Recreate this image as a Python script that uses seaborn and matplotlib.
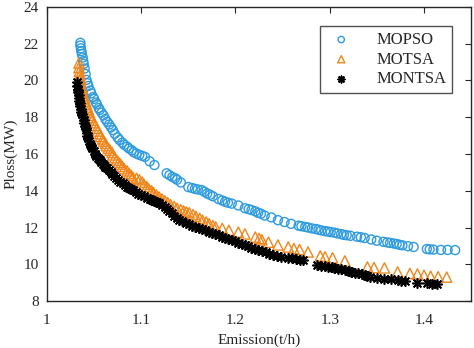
import matplotlib
matplotlib.use("Agg")
import matplotlib.pyplot as plt
import seaborn as sns

# ---- data ----
mopso_x = [1.0355, 1.0355, 1.036, 1.0365, 1.037, 1.038, 1.0385, 1.039, 1.040, 1.041, 1.042, 1.043,
           1.044, 1.046, 1.047, 1.049, 1.050, 1.052, 1.053, 1.055, 1.056, 1.058,
           1.060, 1.062, 1.064, 1.066, 1.068, 1.070, 1.072, 1.075, 1.077, 1.080, 1.082, 1.085,
           1.087, 1.090, 1.092, 1.095, 1.098, 1.101, 1.104, 1.109, 1.114,
           1.127, 1.130, 1.133, 1.136, 1.138, 1.142, 1.150, 1.154, 1.157, 1.160, 1.164, 1.167,
           1.170, 1.173, 1.176, 1.182, 1.186, 1.189, 1.192, 1.196,
           1.203, 1.210, 1.214, 1.217, 1.221, 1.224, 1.227, 1.231, 1.238, 1.245, 1.252, 1.259,
           1.267, 1.270, 1.274, 1.277, 1.281, 1.285, 1.288, 1.291, 1.295, 1.298, 1.301, 1.305,
           1.308, 1.312, 1.315, 1.318, 1.322, 1.329, 1.333, 1.337, 1.344, 1.350, 1.357, 1.361,
           1.364, 1.368, 1.371, 1.374, 1.377, 1.383, 1.389, 1.403, 1.406, 1.410, 1.418, 1.425,
           1.433]
mopso_y = [22.05, 21.9, 21.75, 21.6, 21.45, 21.25, 21.05, 20.9, 20.65, 20.35, 20.03, 19.85,
           19.7, 19.45, 19.3, 19.1, 19.0, 18.8, 18.7, 18.5, 18.4, 18.25,
           18.1, 17.9, 17.75, 17.6, 17.45, 17.3, 17.1, 16.9, 16.76, 16.62, 16.5, 16.4,
           16.3, 16.2, 16.1, 16.02, 15.95, 15.9, 15.84, 15.6, 15.4,
           14.95, 14.85, 14.75, 14.68, 14.6, 14.45, 14.2, 14.15, 14.1, 14.07, 14.04, 13.95,
           13.85, 13.78, 13.7, 13.55, 13.47, 13.4, 13.35, 13.3,
           13.2, 13.05, 13.0, 12.95, 12.88, 12.8, 12.75, 12.65, 12.55, 12.4, 12.3, 12.2,
           12.1, 12.07, 12.03, 12.0, 11.95, 11.92, 11.88, 11.84, 11.8, 11.78, 11.75, 11.72,
           11.68, 11.64, 11.6, 11.58, 11.55, 11.5, 11.47, 11.43, 11.35, 11.28, 11.22, 11.19,
           11.16, 11.13, 11.1, 11.06, 11.03, 10.98, 10.94, 10.83, 10.81, 10.8, 10.78, 10.78,
           10.77]

motsa_x = [1.034, 1.034, 1.0345, 1.035, 1.0355, 1.036, 1.037, 1.0375, 1.038, 1.039, 1.040, 1.041,
           1.042, 1.043, 1.044, 1.045, 1.046, 1.047, 1.048, 1.050, 1.051, 1.053,
           1.054, 1.056, 1.057, 1.059, 1.060, 1.062, 1.063, 1.065, 1.067, 1.069, 1.070, 1.072,
           1.074, 1.076, 1.078, 1.080, 1.082, 1.085, 1.087, 1.089, 1.091, 1.095, 1.098,
           1.101, 1.103, 1.106, 1.108, 1.111, 1.113, 1.116, 1.119, 1.122, 1.125, 1.128, 1.131,
           1.135, 1.138, 1.142, 1.145, 1.148, 1.151, 1.155, 1.158, 1.162, 1.165, 1.169, 1.172,
           1.176, 1.179, 1.186, 1.193, 1.203, 1.210, 1.221, 1.225, 1.228, 1.235, 1.245, 1.256,
           1.262, 1.268, 1.277, 1.290, 1.295, 1.303, 1.316, 1.340, 1.347, 1.358, 1.372, 1.385,
           1.393, 1.400, 1.407, 1.415, 1.424]
motsa_y = [20.95, 20.7, 20.5, 20.3, 20.1, 19.9, 19.6, 19.45, 19.3, 19.15, 19.0, 18.85,
           18.7, 18.55, 18.4, 18.25, 18.1, 17.98, 17.85, 17.7, 17.55, 17.4,
           17.25, 17.1, 16.95, 16.82, 16.7, 16.58, 16.45, 16.32, 16.2, 16.08, 15.95, 15.8,
           15.67, 15.55, 15.45, 15.32, 15.2, 15.08, 14.95, 14.85, 14.75, 14.68, 14.6,
           14.47, 14.35, 14.22, 14.1, 14.0, 13.9, 13.78, 13.66, 13.55, 13.45, 13.35, 13.25,
           13.15, 13.05, 12.97, 12.9, 12.85, 12.8, 12.7, 12.6, 12.5, 12.4, 12.3, 12.2,
           12.1, 12.03, 11.95, 11.85, 11.75, 11.65, 11.48, 11.4, 11.33, 11.2, 11.05, 10.94,
           10.85, 10.8, 10.67, 10.45, 10.4, 10.35, 10.18, 9.85, 9.82, 9.8, 9.58, 9.5,
           9.47, 9.4, 9.35, 9.32, 9.3]

montsa_x = [1.032, 1.032, 1.0325, 1.033, 1.0335, 1.034, 1.0345, 1.035, 1.0355, 1.036, 1.0365, 1.037,
            1.038, 1.039, 1.0395, 1.040, 1.041, 1.042, 1.043, 1.044, 1.045, 1.046,
            1.047, 1.048, 1.0495, 1.051, 1.0525, 1.054, 1.055, 1.056, 1.0575, 1.059, 1.0605, 1.062,
            1.064, 1.066, 1.0675, 1.069, 1.071, 1.073, 1.0755, 1.078, 1.0805, 1.083, 1.085, 1.087,
            1.089, 1.091, 1.094, 1.097, 1.100, 1.103, 1.106, 1.109, 1.1115, 1.114, 1.1165, 1.119,
            1.122, 1.125, 1.1275, 1.130, 1.1325, 1.135, 1.1375, 1.140, 1.1435, 1.147, 1.1505, 1.154,
            1.1575, 1.161, 1.1645, 1.168, 1.1715, 1.175, 1.1785, 1.182, 1.1855, 1.189, 1.1925, 1.196,
            1.1995, 1.203, 1.2065, 1.210, 1.2135, 1.217, 1.2205, 1.224, 1.228, 1.232, 1.236, 1.240,
            1.244, 1.248, 1.256, 1.260, 1.264, 1.268, 1.272, 1.287, 1.291, 1.295, 1.298, 1.302,
            1.305, 1.309, 1.312, 1.316, 1.320, 1.323, 1.327, 1.330, 1.334, 1.337, 1.340, 1.343,
            1.350, 1.358, 1.365, 1.372, 1.376, 1.380, 1.393, 1.403, 1.408, 1.414]
montsa_y = [19.9, 19.7, 19.5, 19.35, 19.2, 19.05, 18.9, 18.75, 18.6, 18.45, 18.3, 18.15,
            18.0, 17.85, 17.7, 17.55, 17.4, 17.14, 17.0, 16.85, 16.7, 16.55,
            16.42, 16.3, 16.15, 16.0, 15.9, 15.8, 15.73, 15.67, 15.56, 15.45, 15.38, 15.3,
            15.22, 15.13, 15.02, 14.9, 14.8, 14.7, 14.6, 14.5, 14.4, 14.3, 14.22, 14.15,
            14.1, 14.04, 13.95, 13.85, 13.78, 13.7, 13.62, 13.55, 13.5, 13.45, 13.39, 13.33,
            13.22, 13.1, 13.0, 12.9, 12.78, 12.65, 12.53, 12.41, 12.33, 12.25, 12.17, 12.1,
            12.04, 11.98, 11.92, 11.85, 11.78, 11.7, 11.64, 11.57, 11.5, 11.42, 11.36, 11.3,
            11.24, 11.18, 11.12, 11.05, 10.97, 10.9, 10.84, 10.78, 10.72, 10.65, 10.58, 10.52,
            10.46, 10.4, 10.35, 10.32, 10.28, 10.25, 10.23, 9.96, 9.93, 9.9, 9.87, 9.83,
            9.8, 9.76, 9.73, 9.69, 9.65, 9.6, 9.55, 9.5, 9.45, 9.4, 9.35, 9.3,
            9.25, 9.22, 9.18, 9.14, 9.11, 9.08, 8.98, 8.96, 8.94, 8.93]

x_ticks = [1, 1.1, 1.2, 1.3, 1.4]
x_tick_labels = ["1", "1.1", "1.2", "1.3", "1.4"]
y_ticks = [8, 10, 12, 14, 16, 18, 20, 22, 24]
series_names = ["MOPSO", "MOTSA", "MONTSA"]

# ---- style ----
sns.set_style("white")
plt.rcParams["font.family"] = ["Liberation Serif", "DejaVu Serif"]

blue = "#2e9be0"
orange = "#f0861a"
black = "#000000"

fig = plt.figure(figsize=(4.74, 3.48), dpi=100)
ax = fig.add_axes([0.099, 0.135, 0.895, 0.845])

sns.scatterplot(x=mopso_x, y=mopso_y, ax=ax, marker="o", s=42,
                facecolor="none", edgecolor=blue, linewidth=1.0, label=series_names[0])
sns.scatterplot(x=motsa_x, y=motsa_y, ax=ax, marker="^", s=55,
                facecolor="none", edgecolor=orange, linewidth=1.0, label=series_names[1])
sns.scatterplot(x=montsa_x, y=montsa_y, ax=ax, marker=(8, 2, 0), s=45,
                facecolor=black, edgecolor=black, linewidth=1.2, label=series_names[2])

ax.set_xlim(1, 1.45)
ax.set_ylim(8, 24)
ax.set_xticks(x_ticks)
ax.set_xticklabels(x_tick_labels)
ax.set_yticks(y_ticks)
ax.tick_params(direction="in", top=True, right=True, length=4, width=0.8,
               labelsize=11, colors="#262626")
ax.tick_params(axis="x", pad=9)
ax.tick_params(axis="y", pad=6)
for sp in ax.spines.values():
    sp.set_visible(True)
    sp.set_color("#262626")
    sp.set_linewidth(1.0)

ax.set_xlabel("Emission(t/h)", fontsize=11, color="#262626", labelpad=5)
ax.set_ylabel("Ploss(MW)", fontsize=11, color="#262626", labelpad=4)

leg = ax.legend(loc="upper right", bbox_to_anchor=(0.955, 0.935), frameon=True,
                fancybox=False, edgecolor="#262626", fontsize=12, handletextpad=1.2,
                borderpad=0.35, labelspacing=0.22, handlelength=1.8, borderaxespad=0,
                markerscale=0.7)
leg.get_frame().set_linewidth(1.0)

fig.savefig("out.png", dpi=100)
